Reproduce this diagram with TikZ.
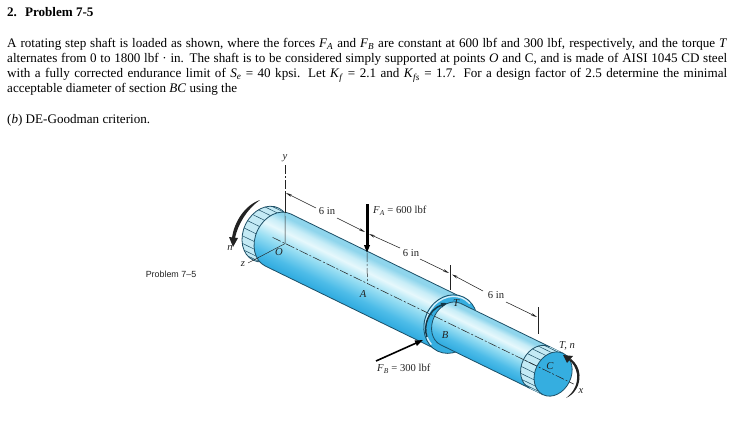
\documentclass[tikz,border=0pt]{standalone}
\usepackage{fontspec}
\setmainfont{Liberation Serif}
\setsansfont{Liberation Sans}
\usetikzlibrary{arrows.meta}
\definecolor{cylA}{HTML}{2BA8DE}
\definecolor{cylB}{HTML}{4DBCE8}
\definecolor{cylC}{HTML}{9ADFF3}
\definecolor{cylD}{HTML}{E6F8FC}
\definecolor{cylE}{HTML}{C8EDF7}
\definecolor{cylF}{HTML}{8FD5EC}
\definecolor{edgeblue}{HTML}{1D4F66}
\definecolor{faceblue}{HTML}{35AEE0}
\definecolor{bandblue}{HTML}{C4EAF5}
\definecolor{inkdark}{HTML}{222222}
\pgfdeclareverticalshading{cylbig}{320bp}{color(0bp)=(cylA); color(12bp)=(cylB); color(28bp)=(cylC); color(40bp)=(cylD); color(47bp)=(cylE); color(54bp)=(cylF); color(60bp)=(cylF)}
\pgfdeclareverticalshading{cylsmall}{160bp}{color(0bp)=(cylA); color(10bp)=(cylB); color(22bp)=(cylC); color(32bp)=(cylD); color(38bp)=(cylE); color(43bp)=(cylF); color(48bp)=(cylF)}
\newcommand{\ssub}[2]{\textit{#1}\textsubscript{\textit{#2}}}
\tikzset{
  shaftcs/.style={shift={(278,240)},x={(.438pt,.899pt)},y={(.899pt,-.438pt)}},
  para/.style={anchor=base west,inner sep=0,font=\fontsize{13.1}{13.1}\selectfont,text=black},
  lab/.style={inner sep=0,font=\fontsize{10.6}{10.6}\selectfont,text=inkdark},
  ilab/.style={inner sep=0,font=\fontsize{10.6}{10.6}\selectfont\itshape,text=inkdark},
  edge/.style={draw=edgeblue,line width=.8pt},
  thin line/.style={draw=inkdark,line width=.45pt},
  center line/.style={draw=inkdark,line width=.5pt,dash pattern=on 9pt off 2pt on 2pt off 2pt},
  dimline/.style={draw=inkdark,line width=.55pt},
  dimarrow/.style={dimline,-{Stealth[length=6pt,width=2.6pt]}},
  hatch/.style={draw=edgeblue,line width=.5pt}
}
\begin{document}
\begin{tikzpicture}[x=1pt,y=-1pt]
\useasboundingbox (0,0) rectangle (743,422);
% ---------- text
\node[para,font=\fontsize{13.1}{13.1}\selectfont\bfseries] (title) at (7,17) {2.\hspace{8pt}Problem 7-5};
\node[para] (l1) at (7,48) {\makebox[720pt][s]{A rotating step shaft is loaded as shown, where the forces \ssub{F}{A} and \ssub{F}{B} are constant at 600 lbf and 300 lbf, respectively, and the torque \textit{T}}};
\node[para] (l2) at (7,63) {\makebox[720pt][s]{alternates from 0 to 1800 lbf · in. The shaft is to be considered simply supported at points \textit{O} and C, and is made of AISI 1045 CD steel}};
\node[para] (l3) at (7,78) {\makebox[720pt][s]{with a fully corrected endurance limit of \ssub{S}{e} = 40 kpsi. Let \ssub{K}{f} = 2.1 and \ssub{K}{fs} = 1.7. For a design factor of 2.5 determine the minimal}};
\node[para] (l4) at (7,93) {acceptable diameter of section \textit{BC} using the};
\node[para] (l5) at (7,124) {(\textit{b}) DE-Goodman criterion.};
\node[inner sep=0,font=\sffamily\fontsize{8.9}{8.9}\selectfont,text=inkdark] (prob) at (171,274) {Problem 7–5};
% ---------- shaft
\begin{scope}[shaftcs]
  % back hatched band of the large section
  \fill[bandblue] (0,-13.4) ellipse [x radius=29,y radius=22.6];
  \foreach \t in {198,214,...,342}{
    \draw[hatch] ([shift={(0,-13.4)}]\t:29 and 22.6) -- (\t:29 and 22.6);
  }
  \draw[edge] (0,-13.4) ellipse [x radius=29,y radius=22.6];
  % large body
  \begin{scope}
    \clip (29,0) arc[start angle=0,end angle=-180,x radius=29,y radius=22.6] -- (-29,195) -- (29,195) -- cycle;
    \node[rotate=-26,inner sep=0] (bigshade) at (0,95) {\pgfuseshading{cylbig}};
  \end{scope}
  \draw[edge] (29,0) arc[start angle=0,end angle=-180,x radius=29,y radius=22.6] -- (-29,192);
  \draw[edge] (29,0) -- (29,192);
  % collar
  \fill[faceblue] (0,192) ellipse [x radius=30,y radius=26];
  \draw[edge] (0,192) ellipse [x radius=30,y radius=26];
  \draw[white,line width=1.4pt,opacity=.8] (0,192) ++(20:28.5 and 24.5) arc[start angle=20,end angle=-160,x radius=28.5,y radius=24.5];
  % small body
  \begin{scope}
    \clip (23,192) arc[start angle=0,end angle=-180,x radius=23,y radius=18] -- (-23,306) -- (23,306) -- cycle;
    \node[rotate=-26,inner sep=0] (smallshade) at (0,250) {\pgfuseshading{cylsmall}};
  \end{scope}
  \draw[edge] (23,192) arc[start angle=0,end angle=-180,x radius=23,y radius=18] -- (-23,306);
  \draw[edge] (23,192) -- (23,306);
  % front hatched band
  \fill[bandblue] (23,291) arc[start angle=0,end angle=-180,x radius=23,y radius=18] -- (-23,306) arc[start angle=-180,end angle=0,x radius=23,y radius=18] -- cycle;
  \foreach \t in {198,216,...,342}{
    \draw[hatch] ([shift={(0,291)}]\t:23 and 18) -- ([shift={(0,306)}]\t:23 and 18);
  }
  \draw[edge] (23,291) arc[start angle=0,end angle=-180,x radius=23,y radius=18];
  \fill[faceblue] (0,306) ellipse [x radius=23,y radius=18];
  \draw[edge] (0,306) ellipse [x radius=23,y radius=18];
  % key points
  \coordinate (axisstart) at (0,-6);
  \coordinate (O) at (0,8);
  \coordinate (A) at (0,99.4);
  \coordinate (B) at (0,192);
  \coordinate (C) at (0,291);
  \coordinate (axisend) at (0,329);
  % crosses
  \foreach \p in {O,A,B,C}{
    \draw[inkdark,line width=.9pt] ([shift={(\p)}]-6,0) -- ([shift={(\p)}]6,0);
    \draw[inkdark,line width=.9pt] ([shift={(\p)}]0,-7) -- ([shift={(\p)}]0,7);
  }
\end{scope}
\draw[center line] (axisstart) -- (axisend);
% y axis and z axis
\coordinate (ytop) at (285,165);
\coordinate (yext) at (285,193);
\coordinate (ysurf) at (285,213);
\coordinate (zend) at (248,263);
\draw[center line] (ytop) -- (yext);
\draw[thin line] (yext) -- (ysurf);
\draw[thin line] (ysurf) -- (O);
\draw[thin line] (O) -- (zend);
\node[ilab] (ylab) at (285,158) {y};
\node[ilab] (zlab) at (243,264) {z};
\node[ilab] (Olab) at (279,252) {O};
\node[ilab] (Alab) at (363,294) {A};
\node[ilab] (Blab) at (445,335) {B};
\node[ilab] (Clab) at (550,366) {C};
\node[ilab] (nlab) at (230,248) {n};
\node[ilab] (xlab) at (581,391) {x};
\node[ilab] (Tlab) at (456,303) {T};
\node[ilab] (Tnlab) at (567,346) {T, n};
% dimensions
\node[lab] (d1) at (327,211) {6 in};
\node[lab] (d2) at (411,253) {6 in};
\node[lab] (d3) at (496,295) {6 in};
\coordinate (e1) at (286,193);
\coordinate (e2a) at (365,232);
\coordinate (e2b) at (369,234);
\coordinate (e3a) at (449,273);
\coordinate (e3c) at (452,274.5);
\coordinate (e4a) at (537,317);
\coordinate (e3t) at (450,265);
\coordinate (e3b) at (450,290);
\coordinate (e4t) at (538,307);
\coordinate (e4b) at (538,334);
\coordinate (d1w) at (316,208);
\coordinate (d1e) at (337,218);
\coordinate (d2w) at (400,248);
\coordinate (d2e) at (420,259);
\coordinate (d3w) at (483,291);
\coordinate (d3e) at (506,302);
\draw[dimarrow] (d1w) -- (e1);
\draw[dimarrow] (d1e) -- (e2a);
\draw[dimarrow] (d2w) -- (e2b);
\draw[dimarrow] (d2e) -- (e3a);
\draw[dimarrow] (d3w) -- (e3c);
\draw[dimarrow] (d3e) -- (e4a);
\draw[dimline,line width=.7pt] (e3t) -- (e3b);
\draw[dimline,line width=.7pt] (e4t) -- (e4b);
% force FA
\coordinate (FAt) at (367,204);
\coordinate (FAh) at (367,253);
\draw[center line] (FAh) -- (A);
\draw[black,line width=3pt,-{Stealth[length=8pt,width=5.5pt,inset=0pt]}] (FAt) -- (FAh);
\node[lab,anchor=west] (FAlab) at (373,211) {\ssub{F}{A} = 600 lbf};
% force FB
\coordinate (FBt) at (376,361);
\coordinate (FBh) at (423,340);
\draw[black,line width=1.6pt,-{Stealth[length=8pt,width=5.5pt,inset=0pt]}] (FBt) -- (FBh);
\node[lab,anchor=west] (FBlab) at (377,369) {\ssub{F}{B} = 300 lbf};
% torque arcs
\coordinate (nT) at (260,200);
\coordinate (nH) at (233,247);
\fill[inkdark] (nT) .. controls (245,205) and (234,222) .. (232,238) -- (235,238) .. controls (238,224) and (247,209) .. cycle;
\fill[inkdark] (nH) -- (229,237) -- (238,238) -- cycle;
\coordinate (cT) at (427,337);
\coordinate (cH) at (447,303);
\draw[edgeblue!70!black,line width=1.5pt,-{Stealth[length=6pt,width=4.5pt,inset=0pt]}] (cT) .. controls (423,326) and (428,310) .. (cH);
\coordinate (rT) at (566,398);
\coordinate (rH) at (563,355);
\fill[inkdark] (rT) .. controls (574,392) and (578,384) .. (577,374) .. controls (576,368) and (573,363) .. (569,360) -- (571,359) .. controls (576,363) and (579,368) .. (579.5,375) .. controls (580,385) and (575,394) .. cycle;
\fill[inkdark] (rH) -- (573,356) -- (567,363) -- cycle;
\end{tikzpicture}
\end{document}
